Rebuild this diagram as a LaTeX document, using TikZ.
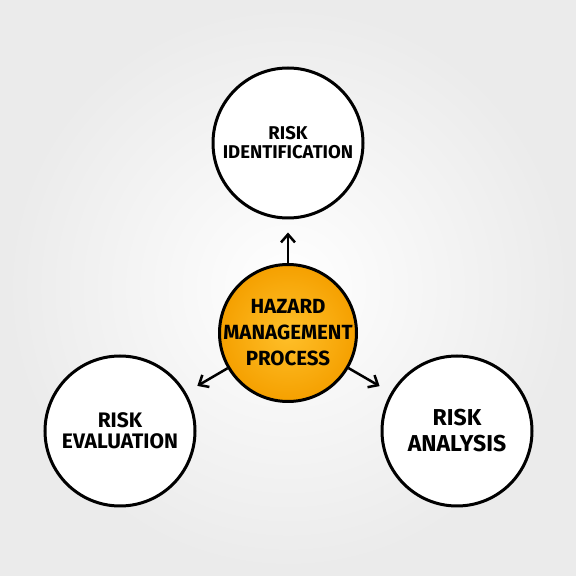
\documentclass[tikz,border=0pt]{standalone}
\usepackage{fontspec}
\setmainfont{Fira Sans}
\usetikzlibrary{arrows.meta}
\definecolor{hazardout}{HTML}{F5A000}
\definecolor{hazardin}{HTML}{FFC02A}
\newcommand{\fsz}[2]{\bfseries\fontsize{#1}{#2}\selectfont}
\tikzset{
  bubble/.style={circle, draw=black, line width=3pt, fill=white, minimum size=150pt, inner sep=0pt, align=center},
  link/.style={line width=2.5pt, -{Straight Barb[length=8pt, width=14pt, line width=2.5pt]}, shorten >=13pt}
}
\begin{document}
\begin{tikzpicture}[x=1pt, y=1pt]
    % background
    \useasboundingbox (0,0) rectangle (576,576);
    \shade[inner color=white, outer color=gray!16] (0,0) rectangle (576,576);
    % circles
    \node[bubble, minimum size=137pt, inner sep=-6pt, inner color=hazardin, outer color=hazardout, font=\fsz{20.5}{26}] (hub) at (288,243)
        {HAZARD\\MANAGEMENT\\PROCESS};
    \node[bubble, font=\fsz{18.5}{19}] (ident) at (288,433) {RISK\\IDENTIFICATION};
    \node[bubble, font=\fsz{21}{21}] (eval) at (120,145) {RISK\\EVALUATION};
    \node[bubble, font=\fsz{23}{26}] (anal) at (457,145) {RISK\\ANALYSIS};
    % arrows
    \draw[link] (hub) -- (ident);
    \draw[link] (hub) -- (eval);
    \draw[link] (hub) -- (anal);
\end{tikzpicture}
\end{document}
